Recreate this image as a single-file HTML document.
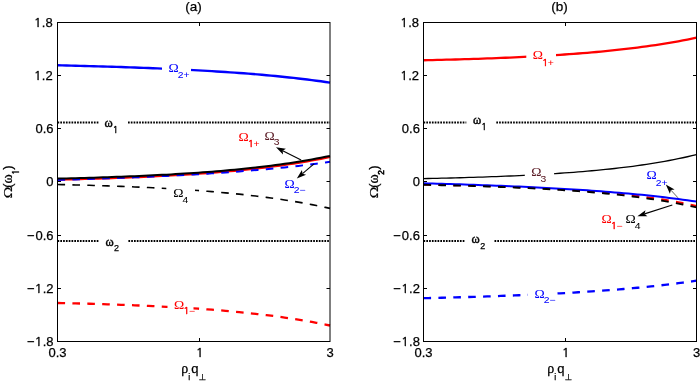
<!DOCTYPE html>
<html><head><meta charset="utf-8"><title>Figure</title>
<style>
html,body{margin:0;padding:0;background:#fff;}
body{width:700px;height:383px;overflow:hidden;}
svg{display:block;}
.tl{font-family:'Liberation Sans', Arial, sans-serif;font-size:13px;fill:#000;}
.gk{font-family:'Liberation Serif', 'DejaVu Serif', serif;}
.sb{font-family:'Liberation Sans', Arial, sans-serif;}
.n1{font-family:NanumGothic,'Liberation Sans',sans-serif;stroke-width:0.4px;}
text{font-family:'Liberation Sans', Arial, sans-serif;fill:#000;stroke:#000;stroke-width:0.25px;}
</style></head>
<body>
<svg width="700" height="383" viewBox="0 0 700 383">
<rect width="700" height="383" fill="#fff"/>
<line x1="57.5" y1="122.5" x2="98.5" y2="122.5" stroke="#000" stroke-width="1.8" stroke-dasharray="1.7 1.1"/>
<line x1="128" y1="122.5" x2="330.0" y2="122.5" stroke="#000" stroke-width="1.8" stroke-dasharray="1.7 1.1"/>
<line x1="57.5" y1="241" x2="98.9" y2="241" stroke="#000" stroke-width="1.8" stroke-dasharray="1.7 1.1"/>
<line x1="128.4" y1="241" x2="330.0" y2="241" stroke="#000" stroke-width="1.8" stroke-dasharray="1.7 1.1"/>
<polyline points="57.50,179.80 62.04,179.69 66.58,179.58 71.12,179.47 75.67,179.35 80.21,179.23 84.75,179.10 89.29,178.97 93.83,178.83 98.38,178.69 102.92,178.54 107.46,178.39 112.00,178.23 116.54,178.07 121.08,177.90 125.62,177.73 130.17,177.54 134.71,177.36 139.25,177.16 143.79,176.96 148.33,176.75 152.88,176.53 157.42,176.31 161.96,176.07 166.50,175.83 171.04,175.58 175.58,175.32 180.12,175.04 184.67,174.76 189.21,174.47 193.75,174.17 198.29,173.86 202.83,173.53 207.38,173.19 211.92,172.84 216.46,172.48 221.00,172.10 225.54,171.71 230.08,171.30 234.62,170.88 239.17,170.44 243.71,169.98 248.25,169.51 252.79,169.02 257.33,168.51 261.88,167.98 266.42,167.43 270.96,166.86 275.50,166.27 280.04,165.65 284.58,165.01 289.12,164.35 293.67,163.66 298.21,162.94 302.75,162.20 307.29,161.43 311.83,160.63 316.38,159.79 320.92,158.93 325.46,158.03 330.00,157.10" fill="none" stroke="#ff0000" stroke-width="2.0" stroke-linejoin="round"/>
<polyline points="57.50,303.00 62.04,303.10 66.58,303.20 71.12,303.31 75.67,303.41 80.21,303.53 84.75,303.65 89.29,303.77 93.83,303.90 98.38,304.03 102.92,304.17 107.46,304.31 112.00,304.46 116.54,304.62 121.08,304.78 125.62,304.95 130.17,305.12 134.71,305.30 139.25,305.49 143.79,305.68 148.33,305.89 152.88,306.10 157.42,306.32 161.96,306.54 166.50,306.78 171.04,307.03 175.58,307.28 180.12,307.55 184.67,307.82 189.21,308.11 193.75,308.41 198.29,308.71 202.83,309.04 207.38,309.37 211.92,309.72 216.46,310.08 221.00,310.45 225.54,310.84 230.08,311.25 234.62,311.67 239.17,312.10 243.71,312.56 248.25,313.03 252.79,313.52 257.33,314.03 261.88,314.56 266.42,315.11 270.96,315.68 275.50,316.27 280.04,316.89 284.58,317.53 289.12,318.20 293.67,318.89 298.21,319.61 302.75,320.36 307.29,321.14 311.83,321.94 316.38,322.78 320.92,323.65 325.46,324.56 330.00,325.50" fill="none" stroke="#ff0000" stroke-width="2.3" stroke-dasharray="7.6 7.3" stroke-dashoffset="0" stroke-linejoin="round"/>
<polyline points="57.50,65.30 62.04,65.41 66.58,65.52 71.12,65.63 75.67,65.74 80.21,65.86 84.75,65.98 89.29,66.11 93.83,66.23 98.38,66.36 102.92,66.50 107.46,66.63 112.00,66.77 116.54,66.92 121.08,67.07 125.62,67.22 130.17,67.38 134.71,67.54 139.25,67.70 143.79,67.88 148.33,68.05 152.88,68.23 157.42,68.42 161.96,68.61 166.50,68.81 171.04,69.01 175.58,69.22 180.12,69.44 184.67,69.66 189.21,69.89 193.75,70.13 198.29,70.38 202.83,70.63 207.38,70.89 211.92,71.16 216.46,71.44 221.00,71.73 225.54,72.03 230.08,72.33 234.62,72.65 239.17,72.98 243.71,73.32 248.25,73.67 252.79,74.04 257.33,74.41 261.88,74.80 266.42,75.20 270.96,75.62 275.50,76.05 280.04,76.50 284.58,76.96 289.12,77.44 293.67,77.93 298.21,78.45 302.75,78.98 307.29,79.53 311.83,80.10 316.38,80.69 320.92,81.31 325.46,81.94 330.00,82.60" fill="none" stroke="#0000ff" stroke-width="2.4" stroke-linejoin="round"/>
<polyline points="57.50,180.00 62.04,179.86 66.58,179.73 71.12,179.59 75.67,179.45 80.21,179.30 84.75,179.15 89.29,179.00 93.83,178.85 98.38,178.69 102.92,178.53 107.46,178.37 112.00,178.20 116.54,178.03 121.08,177.86 125.62,177.68 130.17,177.50 134.71,177.32 139.25,177.13 143.79,176.93 148.33,176.73 152.88,176.53 157.42,176.32 161.96,176.11 166.50,175.89 171.04,175.66 175.58,175.43 180.12,175.19 184.67,174.95 189.21,174.70 193.75,174.45 198.29,174.18 202.83,173.91 207.38,173.63 211.92,173.35 216.46,173.05 221.00,172.75 225.54,172.44 230.08,172.12 234.62,171.78 239.17,171.44 243.71,171.09 248.25,170.73 252.79,170.36 257.33,169.97 261.88,169.58 266.42,169.17 270.96,168.74 275.50,168.31 280.04,167.86 284.58,167.39 289.12,166.91 293.67,166.42 298.21,165.90 302.75,165.37 307.29,164.83 311.83,164.26 316.38,163.68 320.92,163.07 325.46,162.45 330.00,161.80" fill="none" stroke="#0000ff" stroke-width="2.0" stroke-dasharray="7.6 7.3" stroke-dashoffset="0" stroke-linejoin="round"/>
<polyline points="57.50,178.60 62.04,178.49 66.58,178.38 71.12,178.27 75.67,178.15 80.21,178.03 84.75,177.90 89.29,177.77 93.83,177.63 98.38,177.49 102.92,177.34 107.46,177.19 112.00,177.03 116.54,176.87 121.08,176.70 125.62,176.53 130.17,176.34 134.71,176.16 139.25,175.96 143.79,175.76 148.33,175.55 152.88,175.33 157.42,175.11 161.96,174.87 166.50,174.63 171.04,174.38 175.58,174.12 180.12,173.84 184.67,173.56 189.21,173.27 193.75,172.97 198.29,172.66 202.83,172.33 207.38,171.99 211.92,171.64 216.46,171.28 221.00,170.90 225.54,170.51 230.08,170.10 234.62,169.68 239.17,169.24 243.71,168.78 248.25,168.31 252.79,167.82 257.33,167.31 261.88,166.78 266.42,166.23 270.96,165.66 275.50,165.07 280.04,164.45 284.58,163.81 289.12,163.15 293.67,162.46 298.21,161.74 302.75,161.00 307.29,160.23 311.83,159.43 316.38,158.59 320.92,157.73 325.46,156.83 330.00,155.90" fill="none" stroke="#000000" stroke-width="2.0" stroke-linejoin="round"/>
<polyline points="57.50,184.50 62.04,184.60 66.58,184.71 71.12,184.82 75.67,184.94 80.21,185.06 84.75,185.19 89.29,185.32 93.83,185.45 98.38,185.60 102.92,185.74 107.46,185.89 112.00,186.05 116.54,186.22 121.08,186.39 125.62,186.57 130.17,186.75 134.71,186.94 139.25,187.14 143.79,187.35 148.33,187.57 152.88,187.79 157.42,188.02 161.96,188.26 166.50,188.51 171.04,188.78 175.58,189.05 180.12,189.33 184.67,189.62 189.21,189.93 193.75,190.24 198.29,190.57 202.83,190.91 207.38,191.27 211.92,191.64 216.46,192.02 221.00,192.42 225.54,192.83 230.08,193.26 234.62,193.71 239.17,194.17 243.71,194.65 248.25,195.15 252.79,195.67 257.33,196.22 261.88,196.78 266.42,197.36 270.96,197.97 275.50,198.60 280.04,199.26 284.58,199.94 289.12,200.64 293.67,201.38 298.21,202.14 302.75,202.94 307.29,203.76 311.83,204.62 316.38,205.51 320.92,206.44 325.46,207.40 330.00,208.40" fill="none" stroke="#000000" stroke-width="1.6" stroke-dasharray="7.6 7.3" stroke-dashoffset="0" stroke-linejoin="round"/>
<rect x="162" y="60" width="29" height="20" fill="#fff"/>
<rect x="167.5" y="298" width="26.0" height="17" fill="#fff"/>
<rect x="166.3" y="185" width="28.69999999999999" height="19" fill="#fff"/>
<line x1="423.5" y1="122.5" x2="466.3" y2="122.5" stroke="#000" stroke-width="1.8" stroke-dasharray="1.7 1.1"/>
<line x1="496.3" y1="122.5" x2="696.5" y2="122.5" stroke="#000" stroke-width="1.8" stroke-dasharray="1.7 1.1"/>
<line x1="423.5" y1="241" x2="465.1" y2="241" stroke="#000" stroke-width="1.8" stroke-dasharray="1.7 1.1"/>
<line x1="494.5" y1="241" x2="696.5" y2="241" stroke="#000" stroke-width="1.8" stroke-dasharray="1.7 1.1"/>
<polyline points="423.50,60.25 428.05,60.15 432.60,60.05 437.15,59.94 441.70,59.83 446.25,59.72 450.80,59.60 455.35,59.48 459.90,59.35 464.45,59.22 469.00,59.08 473.55,58.93 478.10,58.78 482.65,58.63 487.20,58.47 491.75,58.30 496.30,58.13 500.85,57.94 505.40,57.76 509.95,57.56 514.50,57.36 519.05,57.15 523.60,56.93 528.15,56.70 532.70,56.46 537.25,56.22 541.80,55.96 546.35,55.69 550.90,55.42 555.45,55.13 560.00,54.83 564.55,54.52 569.10,54.20 573.65,53.87 578.20,53.52 582.75,53.16 587.30,52.78 591.85,52.39 596.40,51.99 600.95,51.56 605.50,51.13 610.05,50.67 614.60,50.20 619.15,49.71 623.70,49.20 628.25,48.67 632.80,48.11 637.35,47.54 641.90,46.95 646.45,46.33 651.00,45.69 655.55,45.02 660.10,44.32 664.65,43.60 669.20,42.85 673.75,42.07 678.30,41.27 682.85,40.42 687.40,39.55 691.95,38.64 696.50,37.70" fill="none" stroke="#ff0000" stroke-width="2.3" stroke-linejoin="round"/>
<polyline points="423.50,184.60 428.05,184.68 432.60,184.77 437.15,184.85 441.70,184.95 446.25,185.04 450.80,185.14 455.35,185.24 459.90,185.35 464.45,185.46 469.00,185.58 473.55,185.70 478.10,185.83 482.65,185.96 487.20,186.09 491.75,186.24 496.30,186.38 500.85,186.54 505.40,186.70 509.95,186.87 514.50,187.04 519.05,187.22 523.60,187.41 528.15,187.61 532.70,187.81 537.25,188.03 541.80,188.25 546.35,188.48 550.90,188.72 555.45,188.98 560.00,189.24 564.55,189.51 569.10,189.80 573.65,190.10 578.20,190.41 582.75,190.74 587.30,191.08 591.85,191.43 596.40,191.80 600.95,192.19 605.50,192.59 610.05,193.01 614.60,193.45 619.15,193.91 623.70,194.39 628.25,194.89 632.80,195.41 637.35,195.96 641.90,196.53 646.45,197.13 651.00,197.76 655.55,198.42 660.10,199.10 664.65,199.82 669.20,200.57 673.75,201.36 678.30,202.18 682.85,203.05 687.40,203.95 691.95,204.90 696.50,205.90" fill="none" stroke="#ff0000" stroke-width="2.0" stroke-dasharray="7.6 7.3" stroke-dashoffset="0" stroke-linejoin="round"/>
<polyline points="423.50,183.30 428.05,183.42 432.60,183.55 437.15,183.68 441.70,183.81 446.25,183.95 450.80,184.09 455.35,184.23 459.90,184.37 464.45,184.52 469.00,184.67 473.55,184.83 478.10,184.98 482.65,185.15 487.20,185.31 491.75,185.48 496.30,185.66 500.85,185.83 505.40,186.02 509.95,186.20 514.50,186.40 519.05,186.60 523.60,186.80 528.15,187.01 532.70,187.22 537.25,187.44 541.80,187.67 546.35,187.90 550.90,188.15 555.45,188.39 560.00,188.65 564.55,188.91 569.10,189.18 573.65,189.46 578.20,189.74 582.75,190.04 587.30,190.35 591.85,190.66 596.40,190.98 600.95,191.32 605.50,191.66 610.05,192.02 614.60,192.39 619.15,192.77 623.70,193.16 628.25,193.57 632.80,193.98 637.35,194.42 641.90,194.86 646.45,195.33 651.00,195.81 655.55,196.30 660.10,196.81 664.65,197.34 669.20,197.89 673.75,198.45 678.30,199.04 682.85,199.65 687.40,200.28 691.95,200.93 696.50,201.60" fill="none" stroke="#0000ff" stroke-width="2.0" stroke-linejoin="round"/>
<polyline points="423.50,298.20 428.05,298.09 432.60,297.98 437.15,297.87 441.70,297.75 446.25,297.63 450.80,297.51 455.35,297.38 459.90,297.26 464.45,297.12 469.00,296.99 473.55,296.85 478.10,296.71 482.65,296.56 487.20,296.41 491.75,296.26 496.30,296.10 500.85,295.94 505.40,295.77 509.95,295.59 514.50,295.42 519.05,295.23 523.60,295.05 528.15,294.85 532.70,294.65 537.25,294.45 541.80,294.23 546.35,294.01 550.90,293.79 555.45,293.55 560.00,293.31 564.55,293.07 569.10,292.81 573.65,292.54 578.20,292.27 582.75,291.99 587.30,291.70 591.85,291.40 596.40,291.09 600.95,290.76 605.50,290.43 610.05,290.09 614.60,289.73 619.15,289.36 623.70,288.98 628.25,288.59 632.80,288.18 637.35,287.76 641.90,287.32 646.45,286.87 651.00,286.41 655.55,285.92 660.10,285.42 664.65,284.90 669.20,284.36 673.75,283.80 678.30,283.23 682.85,282.63 687.40,282.01 691.95,281.37 696.50,280.70" fill="none" stroke="#0000ff" stroke-width="2.3" stroke-dasharray="7.6 7.3" stroke-dashoffset="0" stroke-linejoin="round"/>
<polyline points="423.50,178.60 428.05,178.51 432.60,178.41 437.15,178.31 441.70,178.20 446.25,178.09 450.80,177.98 455.35,177.86 459.90,177.73 464.45,177.60 469.00,177.47 473.55,177.33 478.10,177.18 482.65,177.03 487.20,176.87 491.75,176.71 496.30,176.54 500.85,176.36 505.40,176.18 509.95,175.99 514.50,175.78 519.05,175.58 523.60,175.36 528.15,175.13 532.70,174.90 537.25,174.65 541.80,174.40 546.35,174.13 550.90,173.85 555.45,173.56 560.00,173.26 564.55,172.95 569.10,172.62 573.65,172.28 578.20,171.93 582.75,171.56 587.30,171.17 591.85,170.77 596.40,170.35 600.95,169.91 605.50,169.46 610.05,168.98 614.60,168.48 619.15,167.97 623.70,167.42 628.25,166.86 632.80,166.27 637.35,165.65 641.90,165.01 646.45,164.34 651.00,163.64 655.55,162.90 660.10,162.14 664.65,161.34 669.20,160.50 673.75,159.62 678.30,158.71 682.85,157.75 687.40,156.75 691.95,155.70 696.50,154.60" fill="none" stroke="#000000" stroke-width="1.3" stroke-linejoin="round"/>
<polyline points="423.50,184.80 428.05,184.89 432.60,184.98 437.15,185.08 441.70,185.18 446.25,185.29 450.80,185.40 455.35,185.51 459.90,185.63 464.45,185.76 469.00,185.88 473.55,186.02 478.10,186.16 482.65,186.30 487.20,186.45 491.75,186.61 496.30,186.77 500.85,186.94 505.40,187.12 509.95,187.30 514.50,187.49 519.05,187.69 523.60,187.90 528.15,188.11 532.70,188.34 537.25,188.57 541.80,188.81 546.35,189.07 550.90,189.33 555.45,189.61 560.00,189.89 564.55,190.19 569.10,190.50 573.65,190.82 578.20,191.16 582.75,191.51 587.30,191.88 591.85,192.26 596.40,192.65 600.95,193.07 605.50,193.50 610.05,193.95 614.60,194.42 619.15,194.91 623.70,195.42 628.25,195.95 632.80,196.50 637.35,197.08 641.90,197.69 646.45,198.32 651.00,198.97 655.55,199.66 660.10,200.38 664.65,201.13 669.20,201.91 673.75,202.73 678.30,203.58 682.85,204.47 687.40,205.41 691.95,206.38 696.50,207.40" fill="none" stroke="#000000" stroke-width="1.9" stroke-dasharray="7.6 7.3" stroke-dashoffset="0" stroke-linejoin="round"/>
<rect x="526.3" y="48" width="29.700000000000045" height="20" fill="#fff"/>
<rect x="524.8" y="166" width="29.300000000000068" height="18" fill="#fff"/>
<rect x="528" y="288" width="29" height="18" fill="#fff"/>
<rect x="57.5" y="22.5" width="272.5" height="319.0" fill="none" stroke="#000" stroke-width="1"/>
<line x1="57.5" y1="75.5" x2="61.0" y2="75.5" stroke="#000" stroke-width="1"/>
<line x1="330.0" y1="75.5" x2="326.5" y2="75.5" stroke="#000" stroke-width="1"/>
<line x1="57.5" y1="128.5" x2="61.0" y2="128.5" stroke="#000" stroke-width="1"/>
<line x1="330.0" y1="128.5" x2="326.5" y2="128.5" stroke="#000" stroke-width="1"/>
<line x1="57.5" y1="181.5" x2="61.0" y2="181.5" stroke="#000" stroke-width="1"/>
<line x1="330.0" y1="181.5" x2="326.5" y2="181.5" stroke="#000" stroke-width="1"/>
<line x1="57.5" y1="235.5" x2="61.0" y2="235.5" stroke="#000" stroke-width="1"/>
<line x1="330.0" y1="235.5" x2="326.5" y2="235.5" stroke="#000" stroke-width="1"/>
<line x1="57.5" y1="288.5" x2="61.0" y2="288.5" stroke="#000" stroke-width="1"/>
<line x1="330.0" y1="288.5" x2="326.5" y2="288.5" stroke="#000" stroke-width="1"/>
<line x1="199.50" y1="22.5" x2="199.50" y2="26.0" stroke="#000" stroke-width="1"/>
<line x1="199.50" y1="341.5" x2="199.50" y2="338.0" stroke="#000" stroke-width="1"/>
<rect x="423.5" y="22.5" width="273.0" height="319.0" fill="none" stroke="#000" stroke-width="1"/>
<line x1="423.5" y1="75.5" x2="427.0" y2="75.5" stroke="#000" stroke-width="1"/>
<line x1="696.5" y1="75.5" x2="693.0" y2="75.5" stroke="#000" stroke-width="1"/>
<line x1="423.5" y1="128.5" x2="427.0" y2="128.5" stroke="#000" stroke-width="1"/>
<line x1="696.5" y1="128.5" x2="693.0" y2="128.5" stroke="#000" stroke-width="1"/>
<line x1="423.5" y1="181.5" x2="427.0" y2="181.5" stroke="#000" stroke-width="1"/>
<line x1="696.5" y1="181.5" x2="693.0" y2="181.5" stroke="#000" stroke-width="1"/>
<line x1="423.5" y1="235.5" x2="427.0" y2="235.5" stroke="#000" stroke-width="1"/>
<line x1="696.5" y1="235.5" x2="693.0" y2="235.5" stroke="#000" stroke-width="1"/>
<line x1="423.5" y1="288.5" x2="427.0" y2="288.5" stroke="#000" stroke-width="1"/>
<line x1="696.5" y1="288.5" x2="693.0" y2="288.5" stroke="#000" stroke-width="1"/>
<line x1="565.50" y1="22.5" x2="565.50" y2="26.0" stroke="#000" stroke-width="1"/>
<line x1="565.50" y1="341.5" x2="565.50" y2="338.0" stroke="#000" stroke-width="1"/>
<line x1="301.10" y1="160.10" x2="282.68" y2="150.71" stroke="#000" stroke-width="1.1"/>
<polygon points="276.00,147.30 283.01,154.47 282.68,150.71 285.92,148.77" fill="#000"/>
<line x1="314.00" y1="163.80" x2="302.50" y2="173.63" stroke="#000" stroke-width="1.1"/>
<polygon points="296.80,178.50 306.10,174.76 302.50,173.63 301.94,169.90" fill="#000"/>
<line x1="678.00" y1="197.80" x2="670.89" y2="190.11" stroke="#000" stroke-width="0.6"/>
<polygon points="665.80,184.60 669.90,193.75 670.89,190.11 674.60,189.40" fill="#000"/>
<line x1="672.30" y1="204.90" x2="644.54" y2="213.89" stroke="#000" stroke-width="1.1"/>
<polygon points="637.40,216.20 647.42,216.32 644.54,213.89 645.45,210.23" fill="#000"/>
<text x="53.6" y="27.2" text-anchor="end" class="tl"><tspan class="n1" dx="-0.90">1</tspan><tspan dx="0.24">.</tspan>8</text>
<text x="53.6" y="80.2" text-anchor="end" class="tl"><tspan class="n1" dx="-0.90">1</tspan><tspan dx="0.24">.</tspan>2</text>
<text x="53.6" y="133.2" text-anchor="end" class="tl">0.6</text>
<text x="53.6" y="186.2" text-anchor="end" class="tl">0</text>
<text x="53.6" y="240.2" text-anchor="end" class="tl">−<tspan dx="1">0</tspan>.6</text>
<text x="53.6" y="293.2" text-anchor="end" class="tl">−<tspan class="n1" dx="0.10">1</tspan><tspan dx="0.24">.</tspan>2</text>
<text x="53.6" y="346.2" text-anchor="end" class="tl">−<tspan class="n1" dx="0.10">1</tspan><tspan dx="0.24">.</tspan>8</text>
<text x="57.50" y="357.3" text-anchor="middle" class="tl">0.3</text>
<text x="199.70" y="357.3" text-anchor="middle" class="tl"><tspan class="n1" dx="-0.00">1</tspan></text>
<text x="330.00" y="357.3" text-anchor="middle" class="tl">3</text>
<text x="419.9" y="27.2" text-anchor="end" class="tl"><tspan class="n1" dx="-0.90">1</tspan><tspan dx="0.24">.</tspan>8</text>
<text x="419.9" y="80.2" text-anchor="end" class="tl"><tspan class="n1" dx="-0.90">1</tspan><tspan dx="0.24">.</tspan>2</text>
<text x="419.9" y="133.2" text-anchor="end" class="tl">0.6</text>
<text x="419.9" y="186.2" text-anchor="end" class="tl">0</text>
<text x="419.9" y="240.2" text-anchor="end" class="tl">−<tspan dx="1">0</tspan>.6</text>
<text x="419.9" y="293.2" text-anchor="end" class="tl">−<tspan class="n1" dx="0.10">1</tspan><tspan dx="0.24">.</tspan>2</text>
<text x="419.9" y="346.2" text-anchor="end" class="tl">−<tspan class="n1" dx="0.10">1</tspan><tspan dx="0.24">.</tspan>8</text>
<text x="423.50" y="357.3" text-anchor="middle" class="tl">0.3</text>
<text x="565.70" y="357.3" text-anchor="middle" class="tl"><tspan class="n1" dx="-0.00">1</tspan></text>
<text x="696.50" y="357.3" text-anchor="middle" class="tl">3</text>
<text x="193.6" y="11.4" text-anchor="middle" class="tl" style="font-size:13.5px">(a)</text>
<text x="559.6" y="11.3" text-anchor="middle" class="tl" style="font-size:13.5px">(b)</text>
<text x="181.20" y="373.0" class="gk" style="font-size:14px">ρ</text>
<text x="188.30" y="379.6" class="sb" style="font-size:9px">i</text>
<text x="191.20" y="372.5" class="sb" style="font-size:13px">q</text>
<text x="198.60" y="379.8" style="font-family:'DejaVu Sans',sans-serif;font-size:8.5px">⊥</text>
<text x="547.20" y="373.0" class="gk" style="font-size:14px">ρ</text>
<text x="554.30" y="379.6" class="sb" style="font-size:9px">i</text>
<text x="557.20" y="372.5" class="sb" style="font-size:13px">q</text>
<text x="564.60" y="379.8" style="font-family:'DejaVu Sans',sans-serif;font-size:8.5px">⊥</text>
<g transform="translate(12.4,198.7) rotate(-90)"><text transform="translate(0.3,0) scale(1.33,1)" style="font-family:'DejaVu Serif',serif;font-size:11px;stroke-width:0.15px">Ω</text><text x="11.0" y="0" class="sb" style="font-size:13px">(</text><text x="15.3" y="0" class="gk" style="font-size:14px;stroke-width:0.3px">ω</text><text x="24.0" y="6.2" class="sb" style="font-size:8.3px;stroke-width:0.6px"><tspan class="n1" dx="-0.00">1</tspan></text><text x="28.9" y="0" class="sb" style="font-size:13px">)</text></g>
<g transform="translate(378.2,198.7) rotate(-90)"><text transform="translate(0.3,0) scale(1.33,1)" style="font-family:'DejaVu Serif',serif;font-size:11px;stroke-width:0.15px">Ω</text><text x="11.0" y="0" class="sb" style="font-size:13px">(</text><text x="15.3" y="0" class="gk" style="font-size:14px;stroke-width:0.3px">ω</text><text x="24.0" y="6.2" class="sb" style="font-size:8.3px;stroke-width:0.6px">2</text><text x="28.9" y="0" class="sb" style="font-size:13px">)</text></g>
<text x="104.6" y="126.7" fill="#000"><tspan class="gk" style="font-size:12.5px;stroke-width:0.4px">ω</tspan><tspan class="sb" style="font-size:9px" dx="0.3" dy="5.8"><tspan class="n1" dx="-0.00">1</tspan></tspan></text>
<text x="105.5" y="245.6" fill="#000"><tspan class="gk" style="font-size:12.5px;stroke-width:0.4px">ω</tspan><tspan class="sb" style="font-size:9px" dx="0.3" dy="5.8">2</tspan></text>
<text x="473.1" y="123.9" fill="#000"><tspan class="gk" style="font-size:12.5px;stroke-width:0.4px">ω</tspan><tspan class="sb" style="font-size:9px" dx="0.3" dy="5.8"><tspan class="n1" dx="-0.00">1</tspan></tspan></text>
<text x="471.6" y="243.4" fill="#000"><tspan class="gk" style="font-size:12.5px;stroke-width:0.4px">ω</tspan><tspan class="sb" style="font-size:9px" dx="0.3" dy="5.8">2</tspan></text>
<text transform="translate(168.60,71.50) scale(1.1,1)" class="gk" style="font-size:12.5px;fill:#0000ff;stroke:#0000ff;stroke-width:0.05px">Ω</text>
<text transform="translate(177.86,78.20) scale(1.15,1)" class="sb" style="font-size:9px;fill:#0000ff;stroke:#0000ff;stroke-width:0.05px">2+</text>
<text transform="translate(238.60,140.50) scale(1.1,1)" class="gk" style="font-size:12.5px;fill:#ff0000;stroke:#ff0000;stroke-width:0.05px">Ω</text>
<text transform="translate(247.86,147.20) scale(1.15,1)" class="sb" style="font-size:9px;fill:#ff0000;stroke:#ff0000;stroke-width:0.05px"><tspan class="n1" dx="-0.00">1</tspan><tspan dx="-0.45">+</tspan></text>
<text transform="translate(264.40,139.60) scale(1.1,1)" class="gk" style="font-size:12.5px;fill:#5a1a24;stroke:#5a1a24;stroke-width:0.05px">Ω</text>
<text transform="translate(273.66,145.30) scale(1.15,1)" class="sb" style="font-size:9px;fill:#5a1a24;stroke:#5a1a24;stroke-width:0.05px">3</text>
<text transform="translate(284.60,187.90) scale(1.1,1)" class="gk" style="font-size:12.5px;fill:#0000ff;stroke:#0000ff;stroke-width:0.05px">Ω</text>
<text transform="translate(293.86,192.60) scale(1.15,1)" class="sb" style="font-size:9px;fill:#0000ff;stroke:#0000ff;stroke-width:0.05px">2−</text>
<text transform="translate(173.20,197.30) scale(1.1,1)" class="gk" style="font-size:12.5px;fill:#000000;stroke:#000000;stroke-width:0.05px">Ω</text>
<text transform="translate(182.46,203.00) scale(1.15,1)" class="sb" style="font-size:9px;fill:#000000;stroke:#000000;stroke-width:0.05px">4</text>
<text transform="translate(174.00,308.50) scale(1.1,1)" class="gk" style="font-size:12.5px;fill:#ff0000;stroke:#ff0000;stroke-width:0.05px">Ω</text>
<text transform="translate(183.26,314.20) scale(1.15,1)" class="sb" style="font-size:9px;fill:#ff0000;stroke:#ff0000;stroke-width:0.05px"><tspan class="n1" dx="-0.00">1</tspan><tspan dx="-0.45">−</tspan></text>
<text transform="translate(532.80,58.90) scale(1.1,1)" class="gk" style="font-size:12.5px;fill:#ff0000;stroke:#ff0000;stroke-width:0.05px">Ω</text>
<text transform="translate(542.06,65.60) scale(1.15,1)" class="sb" style="font-size:9px;fill:#ff0000;stroke:#ff0000;stroke-width:0.05px"><tspan class="n1" dx="-0.00">1</tspan><tspan dx="-0.45">+</tspan></text>
<text transform="translate(531.30,176.20) scale(1.1,1)" class="gk" style="font-size:12.5px;fill:#5a1a24;stroke:#5a1a24;stroke-width:0.05px">Ω</text>
<text transform="translate(540.56,181.90) scale(1.15,1)" class="sb" style="font-size:9px;fill:#5a1a24;stroke:#5a1a24;stroke-width:0.05px">3</text>
<text transform="translate(646.60,179.40) scale(1.1,1)" class="gk" style="font-size:12.5px;fill:#0000ff;stroke:#0000ff;stroke-width:0.05px">Ω</text>
<text transform="translate(655.86,186.10) scale(1.15,1)" class="sb" style="font-size:9px;fill:#0000ff;stroke:#0000ff;stroke-width:0.05px">2+</text>
<text transform="translate(601.50,222.90) scale(1.1,1)" class="gk" style="font-size:12.5px;fill:#ff0000;stroke:#ff0000;stroke-width:0.05px">Ω</text>
<text transform="translate(610.76,228.60) scale(1.15,1)" class="sb" style="font-size:9px;fill:#ff0000;stroke:#ff0000;stroke-width:0.05px"><tspan class="n1" dx="-0.00">1</tspan><tspan dx="-0.45">−</tspan></text>
<text transform="translate(625.40,223.40) scale(1.1,1)" class="gk" style="font-size:12.5px;fill:#000000;stroke:#000000;stroke-width:0.05px">Ω</text>
<text transform="translate(634.66,229.10) scale(1.15,1)" class="sb" style="font-size:9px;fill:#000000;stroke:#000000;stroke-width:0.05px">4</text>
<text transform="translate(534.60,297.60) scale(1.1,1)" class="gk" style="font-size:12.5px;fill:#0000ff;stroke:#0000ff;stroke-width:0.05px">Ω</text>
<text transform="translate(543.86,303.30) scale(1.15,1)" class="sb" style="font-size:9px;fill:#0000ff;stroke:#0000ff;stroke-width:0.05px">2−</text>
</svg>
</body></html>
